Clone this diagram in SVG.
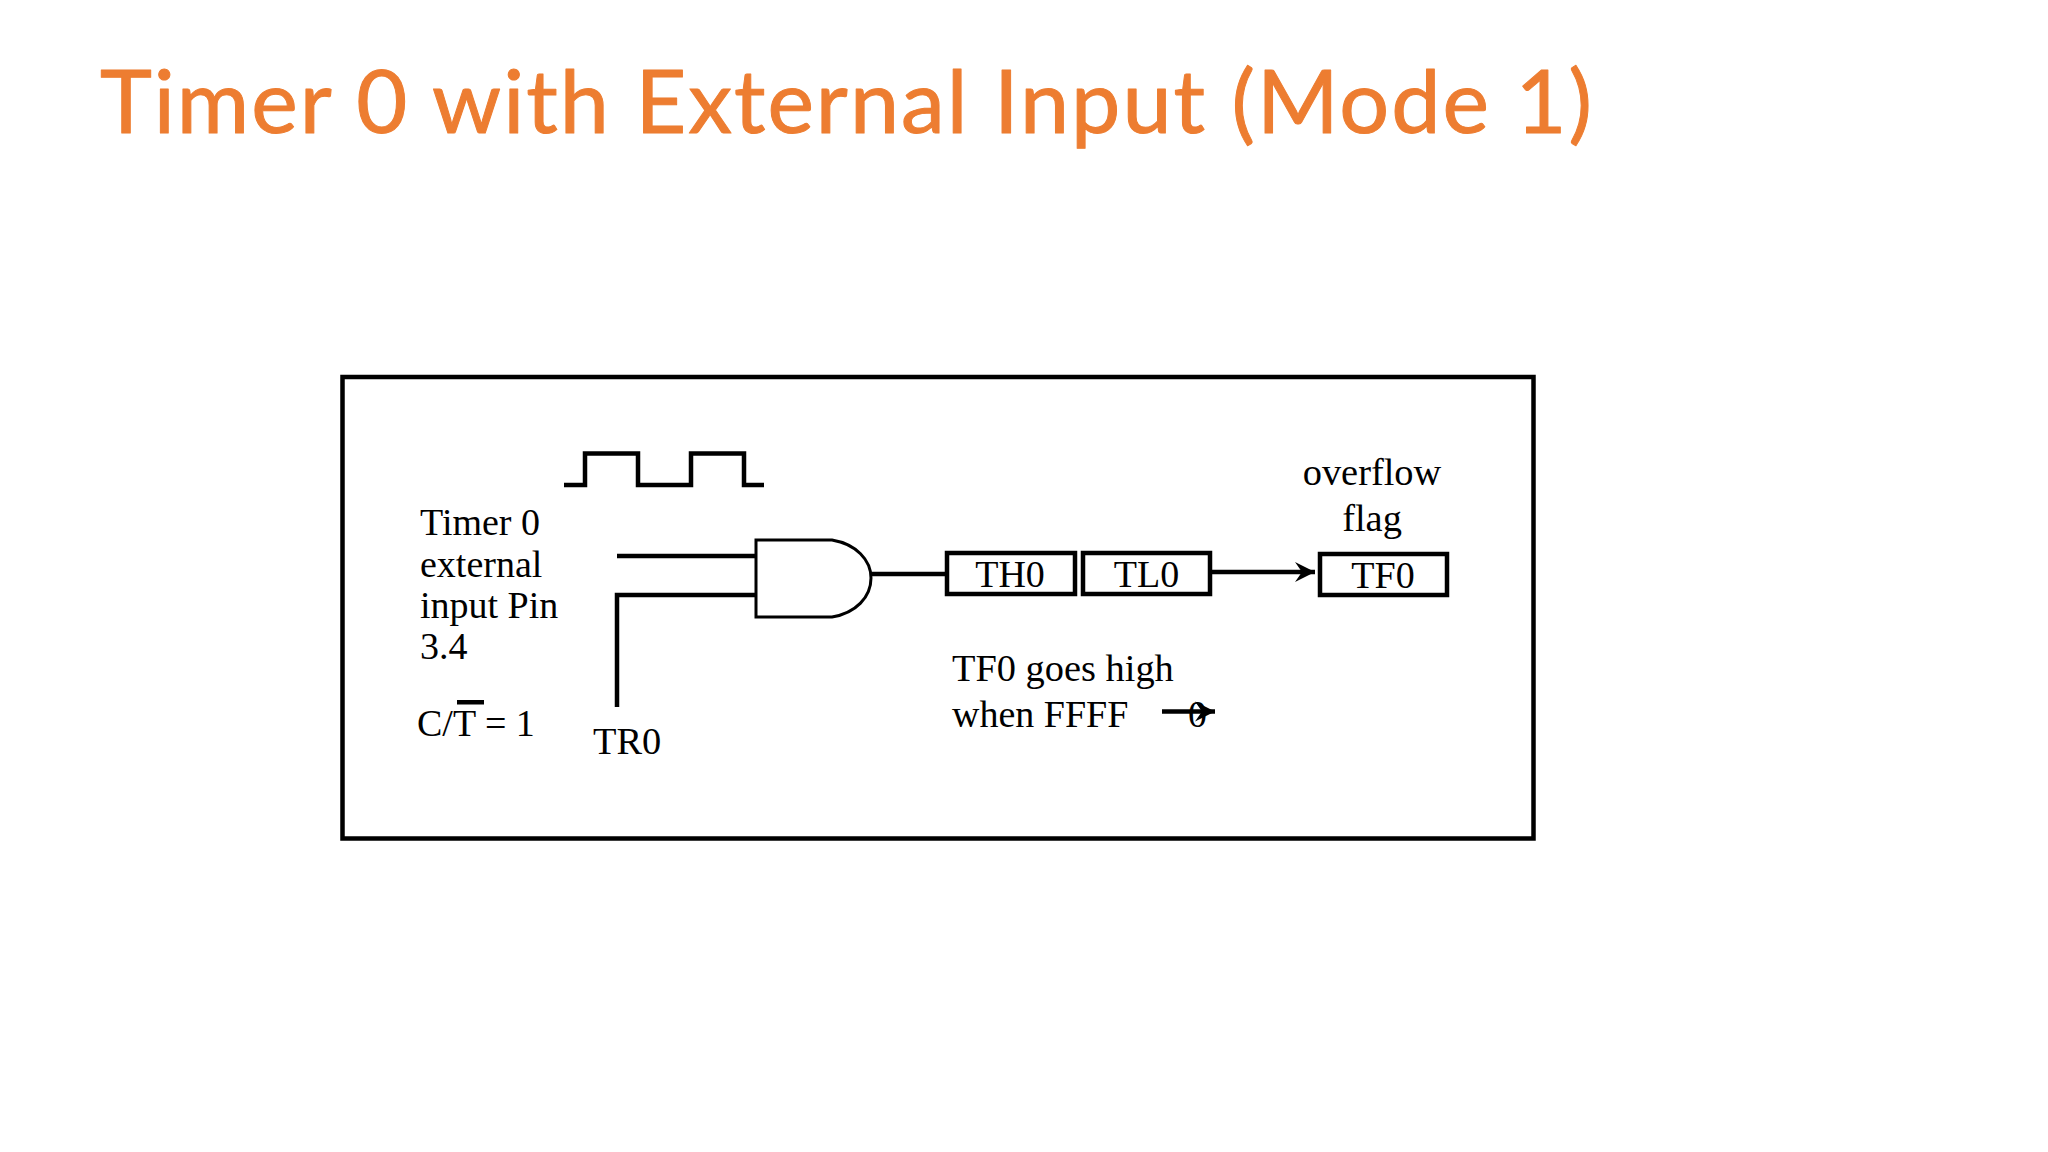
<svg xmlns="http://www.w3.org/2000/svg" width="2048" height="1152" viewBox="0 0 2048 1152">
<style>
.t{font-family:"Liberation Serif","Times New Roman",serif;font-size:38px;fill:#000}
.o{font-size:38.400px}
.m{text-anchor:middle}
.title{font-family:"Comic Sans MS","Lato",sans-serif;font-size:88px;fill:#ED7D31;stroke:#ED7D31;stroke-width:1px;stroke-linejoin:round}
.w{fill:none;stroke:#000;stroke-width:4.5}
.b{fill:#fff;stroke:#000;stroke-width:4.5}
</style>
<defs>
<marker id="arrow" markerUnits="userSpaceOnUse" markerWidth="24" markerHeight="24" refX="21" refY="12" orient="auto">
<path d="M1 2L21 12L1 22L8 12Z" fill="#000"/>
</marker>
</defs>
<rect width="2048" height="1152" fill="#fff"/>
<text id="title" class="title" x="100" y="133" textLength="1492" lengthAdjust="spacing">Timer 0 with External Input (Mode 1)</text>
<g id="frame"><rect x="342.500" y="377" width="1191" height="461.500" fill="none" stroke="#000" stroke-width="4.5"/></g>
<g id="connectors">
<path id="pulse" class="w" d="M564 485H585V453.500H638V485H691V453.500H744V485H764"/>
<path id="wire-input" class="w" d="M617 556H756"/>
<path id="wire-tr0" class="w" d="M617 707V595H756"/>
<path id="wire-out" class="w" d="M871 574H946"/>
<path id="wire-flag" class="w" d="M1211 572H1315" marker-end="url(#arrow)"/>
</g>
<g id="and-gate"><path d="M756 540H832C856 544 871 560 871 578C871 597 856 613 832 617H756Z" fill="#fff" stroke="#000" stroke-width="3"/></g>
<g id="th0"><rect class="b" x="947" y="553" width="128" height="41"/><text class="t m" x="1010" y="587">TH0</text></g>
<g id="tl0"><rect class="b" x="1083" y="553" width="127" height="41"/><text class="t m" x="1146.500" y="587">TL0</text></g>
<g id="tf0"><rect class="b" x="1320" y="554" width="127" height="41"/><text class="t m" x="1383" y="588">TF0</text></g>
<g id="overflow-label"><text class="t o m" x="1372" y="485">overflow</text><text class="t o m" x="1372" y="531">flag</text></g>
<g id="input-label">
<text class="t" x="420" y="535">Timer 0</text>
<text class="t" x="420" y="577">external</text>
<text class="t" x="420" y="618">input Pin</text>
<text class="t" x="420" y="659">3.4</text>
</g>
<g id="ct-label"><text class="t" x="417" y="736">C/T = 1</text><rect x="457" y="700" width="27" height="4.500" fill="#000"/></g>
<g id="tr0-label"><text class="t o" x="593" y="754">TR0</text></g>
<g id="note">
<text class="t o" x="952" y="681">TF0 goes high</text>
<text class="t" x="952" y="727">when FFFF</text>
<text class="t" x="1188" y="727">0</text>
<path class="w" d="M1162 711.500H1215" marker-end="url(#arrow)"/>
</g>
</svg>
